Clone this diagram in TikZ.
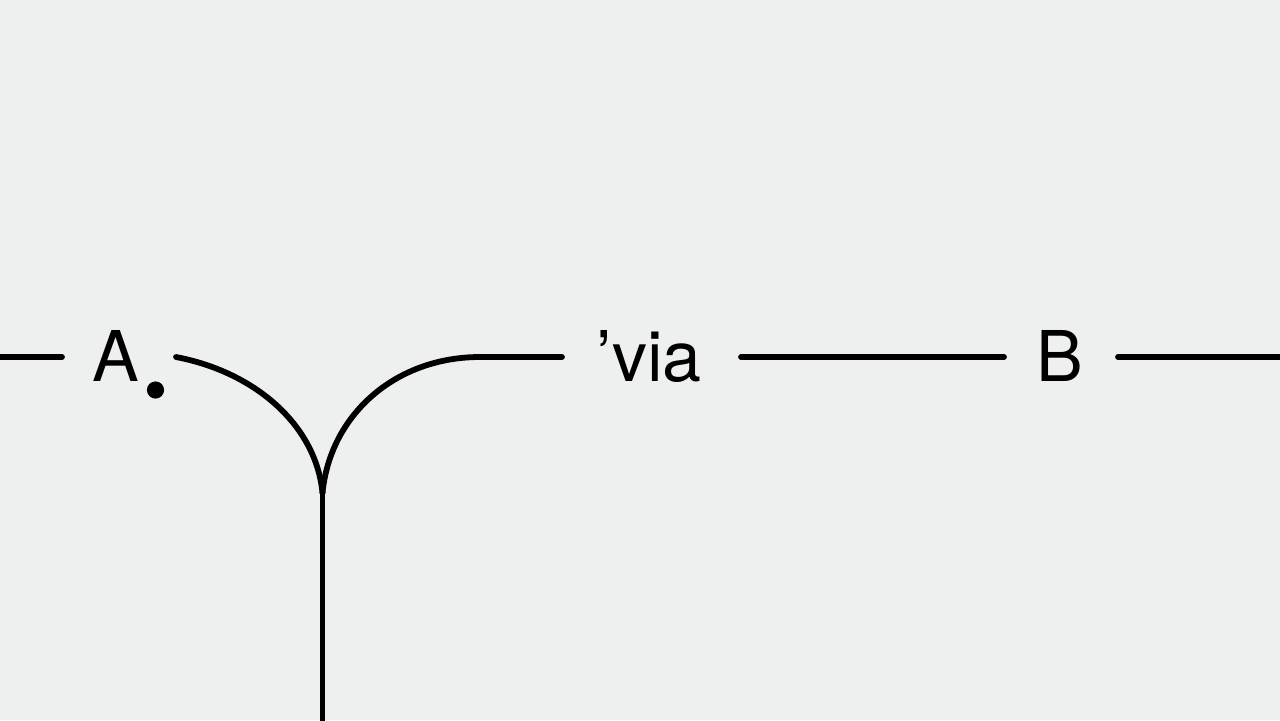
\documentclass[tikz,border=0pt]{standalone}
\usepackage{fontspec}
\setmainfont{TeX Gyre Heros}
\definecolor{bgc}{HTML}{EEEFEF}
\begin{document}
\begin{tikzpicture}[x=0.5pt,y=-0.5pt,
  wire/.style={line width=2.9pt,line cap=round,black},
  lbl/.style={anchor=base,inner sep=0pt,font=\fontsize{35}{40}\selectfont}]
\fill[bgc] (0,0) rectangle (1280,720);
\useasboundingbox (0,0) rectangle (1280,720);
% labels
\node[lbl] (A) at (115.5,381) {A};
\node[lbl] (via) at (649,381) {’via};
\node[lbl] (B) at (1060,381) {B};
\fill (155.5,390) circle (4.3pt);
% coordinates
\coordinate (l0) at (-5,357);
\coordinate (l1) at (62,357);
\coordinate (c0) at (176,357);
\coordinate (j) at (322.5,493);
\coordinate (bot) at (322.5,725);
\coordinate (c1) at (480,357);
\coordinate (c2) at (562,357);
\coordinate (m0) at (741,357);
\coordinate (m1) at (1004,357);
\coordinate (r0) at (1118,357);
\coordinate (r1) at (1290,357);
% wires
\draw[wire] (l0) -- (l1);
\draw[wire] (c0) .. controls (255,372) and (316,425) .. (j);
\draw[wire] (j) .. controls (330,415) and (395,357) .. (c1) -- (c2);
\draw[wire,line cap=butt] (j) -- (bot);
\draw[wire] (m0) -- (m1);
\draw[wire] (r0) -- (r1);
\end{tikzpicture}
\end{document}
